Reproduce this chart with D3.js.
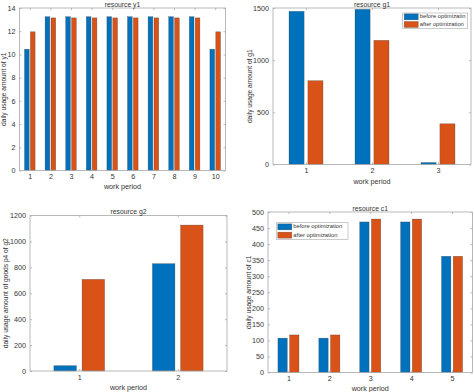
<!DOCTYPE html>
<html>
<head>
<meta charset="utf-8">
<script src="https://d3js.org/d3.v7.min.js"></script>
<style>
  body { margin: 0; background: #fff; }
  text { font-family: "Liberation Sans", Arial, sans-serif; fill: #333; }
</style>
</head>
<body>
<svg id="chart" width="474" height="392"></svg>
<script>
// values
const y1Periods = [1, 2, 3, 4, 5, 6, 7, 8, 9, 10]
const y1Before = [10.45, 13.25, 13.25, 13.25, 13.25, 13.25, 13.25, 13.25, 13.25, 10.45]
const y1After = [11.95, 13.15, 13.15, 13.15, 13.15, 13.15, 13.15, 13.15, 13.15, 11.95]
const y1Ticks = [0, 2, 4, 6, 8, 10, 12, 14]

const g1Periods = [1, 2, 3]
const g1Before = [1468, 1487, 19]
const g1After = [803, 1190, 390]
const g1Ticks = [0, 500, 1000, 1500]

const g2Periods = [1, 2]
const g2Before = [41, 828]
const g2After = [707, 1126]
const g2Ticks = [0, 200, 400, 600, 800, 1000, 1200]

const c1Periods = [1, 2, 3, 4, 5]
const c1Before = [107, 107, 469, 469, 362]
const c1After = [117, 117, 478, 478, 362]
const c1Ticks = [0, 50, 100, 150, 200, 250, 300, 350, 400, 450, 500]

const blue = "#0072bd", orange = "#d95319"

const svg = d3.select("#chart")

function drawPanel(p) {
  const g = svg.append("g")

  const x = d3.scaleLinear().domain([0.5, p.periods.length + 0.5]).range([p.left, p.right])
  const y = d3.scaleLinear().domain([0, p.ymax]).range([p.bottom, p.top])
  const step = x(2) - x(1)

  // matlab style grouped bars: width 0.2286, offset +-0.143
  const bw = 0.2286 * step
  const off = 0.143 * step
  const series = [[p.before, blue, -off], [p.after, orange, off]]
  series.forEach(function(s) {
    g.selectAll(null)
      .data(p.periods)
      .join("rect")
        .attr("x", (d, i) => x(d) + s[2] - bw / 2)
        .attr("y", (d, i) => y(s[0][i]))
        .attr("width", bw)
        .attr("height", (d, i) => y(0) - y(s[0][i]))
        .attr("fill", s[1])
        .attr("stroke", "#2a2a2a")
        .attr("stroke-opacity", 0.5)
        .attr("stroke-width", 0.5)
  })

  // box
  g.append("rect")
    .attr("x", p.left).attr("y", p.top)
    .attr("width", p.right - p.left).attr("height", p.bottom - p.top)
    .attr("fill", "none").attr("stroke", "#a8a8a8").attr("stroke-width", 0.8)

  // axes with inward ticks on both sides
  const tl = 2
  g.append("g").attr("transform", `translate(${p.left},0)`)
    .call(d3.axisLeft(y).tickValues(p.ticks).tickSize(-tl).tickPadding(4).tickFormat(d3.format("d")))
  g.append("g").attr("transform", `translate(${p.right},0)`)
    .call(d3.axisRight(y).tickValues(p.ticks).tickSize(-tl).tickFormat(""))
  g.append("g").attr("transform", `translate(0,${p.bottom})`)
    .call(d3.axisBottom(x).tickValues(p.periods).tickSize(-tl).tickPadding(3.5).tickFormat(d3.format("d")))
  g.append("g").attr("transform", `translate(0,${p.top})`)
    .call(d3.axisTop(x).tickValues(p.periods).tickSize(-tl).tickFormat(""))
  g.selectAll(".domain").remove()
  g.selectAll(".tick line").attr("stroke", "#a8a8a8").attr("stroke-width", 0.8)
  g.selectAll(".tick text").style("font-size", "7.2px").attr("fill", "#333")

  // title and labels
  g.append("text").attr("x", (p.left + p.right) / 2).attr("y", p.titleY)
    .text(p.title).style("font-size", "6.8px").attr("text-anchor", "middle")
  g.append("text").attr("x", (p.left + p.right) / 2).attr("y", p.xlabelY)
    .text("work period").style("font-size", "7.2px").attr("text-anchor", "middle")
  g.append("text")
    .attr("transform", `translate(${p.ylabelX},${(p.top + p.bottom) / 2}) rotate(-90)`)
    .text(p.ylabel).style("font-size", "6.6px").attr("text-anchor", "middle")
    .attr("dominant-baseline", "middle")

  // legend
  if (p.legend) {
    const L = p.legend
    g.append("rect").attr("x", L.x).attr("y", L.y).attr("width", L.w).attr("height", L.h)
      .attr("fill", "#fff").attr("stroke", "#a8a8a8").attr("stroke-width", 0.6)
    L.labels.forEach(function(t, i) {
      const cy = L.y + L.h / 4 + i * L.h / 2
      g.append("rect").attr("x", L.x + 1.5).attr("y", cy - 3).attr("width", 14).attr("height", 6)
        .attr("fill", i == 0 ? blue : orange).attr("stroke", "#2a2a2a").attr("stroke-opacity", 0.5).attr("stroke-width", 0.5)
      g.append("text").attr("x", L.x + 17).attr("y", cy).text(t)
        .style("font-size", "5.8px").attr("dominant-baseline", "middle")
    })
  }
}

drawPanel({ periods: y1Periods, before: y1Before, after: y1After, ticks: y1Ticks, ymax: 14,
  left: 19.5, right: 225.5, top: 8, bottom: 170.5,
  title: "resource y1", titleY: 6.5, xlabelY: 188.5, ylabelX: 4, ylabel: "daily usage amount of y1" })

drawPanel({ periods: g1Periods, before: g1Before, after: g1After, ticks: g1Ticks, ymax: 1500,
  left: 273, right: 471, top: 8, bottom: 164.5,
  title: "resource g1", titleY: 6.5, xlabelY: 183.5, ylabelX: 250.3, ylabel: "daily usage amount of g1",
  legend: { x: 402.7, y: 13, w: 65, h: 15.3, labels: ["before optimizatin", "after optimization"] } })

drawPanel({ periods: g2Periods, before: g2Before, after: g2After, ticks: g2Ticks, ymax: 1200,
  left: 30, right: 227, top: 215.5, bottom: 371,
  title: "resource g2", titleY: 213.5, xlabelY: 389.5, ylabelX: 6.7, ylabel: "daily usage amount of goods p4 of g2" })

drawPanel({ periods: c1Periods, before: c1Before, after: c1After, ticks: c1Ticks, ymax: 500,
  left: 268, right: 472.5, top: 212, bottom: 372.5,
  title: "resource c1", titleY: 210.5, xlabelY: 391, ylabelX: 249.7, ylabel: "daily usage amount of c1",
  legend: { x: 276.3, y: 222.7, w: 71.7, h: 16.6, labels: ["before optimization", "after optimization"] } })
</script>
</body>
</html>
